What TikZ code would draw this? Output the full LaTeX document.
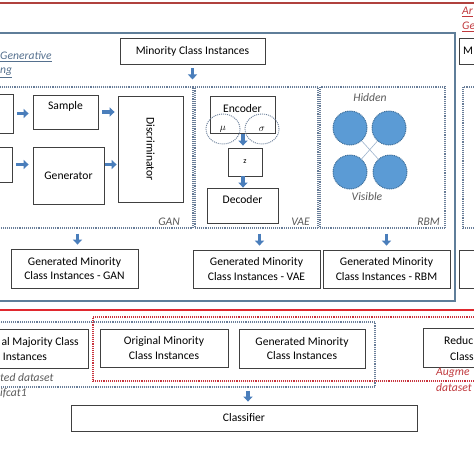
\documentclass[tikz,border=0pt]{standalone}
\usepackage{fontspec}
\setmainfont{Carlito}
\usetikzlibrary{arrows.meta,shapes.geometric}

\definecolor{boxgray}{HTML}{404040}
\definecolor{frameblue}{HTML}{5F7E99}
\definecolor{dotblue}{HTML}{687D98}
\definecolor{arrblue}{HTML}{4A7EBB}
\definecolor{unitblue}{HTML}{5B9BD5}
\definecolor{unitedge}{HTML}{41719C}
\definecolor{wireblue}{HTML}{9DB3CC}
\definecolor{topred}{HTML}{B0413E}
\definecolor{linered}{HTML}{E0282E}
\definecolor{dotred}{HTML}{C8323C}
\definecolor{txtred}{HTML}{C0393D}
\definecolor{txtgray}{HTML}{595959}
\definecolor{txtblue}{HTML}{55708E}

\tikzset{
  box/.style={draw=boxgray, line width=0.8pt, fill=white, inner sep=0pt, align=center,
    font=\fontsize{11.6}{14.5}\selectfont},
  txt/.style={inner sep=0pt, align=center, font=\fontsize{11.6}{14.5}\selectfont},
  tag/.style={inner sep=0pt, text=txtgray, font=\fontsize{11.6}{14.5}\selectfont\itshape},
  redtag/.style={inner sep=0pt, text=txtred, font=\fontsize{11.6}{14.5}\selectfont\itshape},
  bluetag/.style={inner sep=0pt, text=txtblue, font=\fontsize{11.6}{14.5}\selectfont\itshape},
  dotbox/.style={draw=dotblue, line width=1.1pt, dash pattern=on 1pt off 0.9pt, inner sep=0pt},
  reddots/.style={draw=dotred, line width=1.1pt, dash pattern=on 1pt off 0.9pt, inner sep=0pt},
  ell/.style={ellipse, draw=dotblue, line width=0.9pt, dash pattern=on 1pt off 1pt,
    minimum width=34pt, minimum height=30pt, inner sep=0pt, font=\fontsize{10}{12}\selectfont},
  unit/.style={circle, fill=unitblue, draw=unitedge, line width=1pt,
    dash pattern=on 1pt off 0.8pt, minimum size=34pt, inner sep=0pt},
  barrow/.style={arrblue, line width=3.4pt, -{Triangle[width=9pt,length=5pt]}},
}

\begin{document}
\begin{tikzpicture}[x=1pt,y=-1pt]
\useasboundingbox (0,0) rectangle (474,474);
\clip (0,0) rectangle (474,474);

% frames
\draw[topred, line width=1.6pt] (-5,3) -- (480,3); % outer red
\draw[frameblue, line width=1.2pt] (-10,33) rectangle (455,301); % generative block
\draw[linered, line width=1.2pt] (-5,310) -- (480,310); % red rule
\node[bluetag, anchor=west] (gentag) at (0,57) {\underline{Generative}};
\node[bluetag, anchor=west] (lrntag) at (0,73) {\underline{ng}};
\node[redtag, anchor=west] (artag) at (462,12) {\underline{Ar}};
\node[redtag, anchor=west] (getag) at (462,27) {\underline{Ge}};

% input
\node[box, minimum width=145pt, minimum height=26pt] (minor) at (192.5,51) {Minority Class Instances};

% model boxes
\node[dotbox, minimum width=203pt, minimum height=141pt] (gan) at (91.5,157.5) {};
\node[dotbox, minimum width=123pt, minimum height=141pt] (vae) at (256.5,157.5) {};
\node[dotbox, minimum width=125pt, minimum height=141pt] (rbm) at (382.5,157.5) {};
\node[tag, anchor=east] (gantag) at (180,222) {GAN};
\node[tag, anchor=east] (vaetag) at (310,222) {VAE};
\node[tag, anchor=east] (rbmtag) at (440,222) {RBM};
\draw[barrow, shorten <=4pt, shorten >=7pt] (minor.south) -- (minor.south |- gan.north);

% GAN
\node[box, minimum width=43pt, minimum height=39pt] (realin) at (-8.5,113.5) {};
\node[box, minimum width=42pt, minimum height=35pt] (noisein) at (-9,164.5) {};
\node[box, minimum width=65pt, minimum height=34pt] (sample) at (65.5,112) {};
\node[txt] (sampletxt) at (65.5,106) {Sample};
\node[box, minimum width=71pt, minimum height=57pt] (generator) at (68.5,175.5) {Generator};
\node[box, minimum width=65pt, minimum height=106pt] (disc) at (150.5,149) {};
\node[txt, rotate=-90] (disctxt) at (disc.center) {Discriminator};
\draw[barrow, shorten <=4pt, shorten >=4pt] (realin.east) -- (realin.east -| sample.west);
\draw[barrow, shorten <=4pt, shorten >=4pt] (noisein.east) -- (noisein.east -| generator.west);
\draw[barrow, shorten <=4pt, shorten >=3pt] (sample.east) -- (sample.east -| disc.west);
\draw[barrow, shorten <=1pt, shorten >=1pt] (noisein.east -| generator.east) -- (noisein.east -| disc.west);

% VAE
\node[box, minimum width=65pt, minimum height=37pt] (encoder) at (242.5,114.5) {};
\node[txt] (enctxt) at (242.5,109) {Encoder};
\node[ell] (mu) at (223,129) {$\mu$};
\node[ell] (sigma) at (262,129) {$\sigma$};
\node[box, minimum width=34pt, minimum height=28pt, font=\fontsize{8}{10}\selectfont] (zlat) at (245,162) {z};
\node[box, minimum width=71pt, minimum height=35pt] (decoder) at (242.5,205.5) {};
\node[txt] (dectxt) at (242.5,200) {Decoder};
\draw[barrow, shorten <=1pt, shorten >=2pt] ([xshift=-2pt]encoder.south -| zlat.north) -- ([xshift=-2pt]zlat.north);
\draw[barrow] ([xshift=-2pt]zlat.south) -- ([xshift=-2pt]zlat.south |- decoder.north);

% RBM
\node[tag] (hidtag) at (370,98) {Hidden};
\node[unit] (h1) at (350,128) {};
\node[unit] (h2) at (389,128) {};
\node[unit] (v1) at (350,172) {};
\node[unit] (v2) at (390,172) {};
\draw[wireblue, line width=0.6pt] (h1) -- (v2);
\draw[wireblue, line width=0.6pt] (h2) -- (v1);
\node[tag] (vistag) at (367,197) {Visible};

% generated sets
\node[box, minimum width=127pt, minimum height=39pt] (gengan) at (74.5,268.5) {Generated Minority\\Class Instances - GAN};
\node[box, minimum width=127pt, minimum height=38pt] (genvae) at (256.5,269) {Generated Minority\\Class Instances - VAE};
\node[box, minimum width=127pt, minimum height=38pt] (genrbm) at (386.5,269) {Generated Minority\\Class Instances - RBM};
\draw[barrow, shorten <=5pt, shorten >=4pt] ([xshift=3pt]gengan.north |- gan.south) -- ([xshift=3pt]gengan.north);
\draw[barrow, shorten <=5pt, shorten >=4pt] ([xshift=3pt]genvae.north |- vae.south) -- ([xshift=3pt]genvae.north);
\draw[barrow, shorten <=5pt, shorten >=4pt] (genrbm.north |- rbm.south) -- (genrbm.north);

% next block (cut off)
\node[box, minimum width=50pt, minimum height=26pt] (minor2) at (484,51) {};
\node[txt, anchor=west] (minor2txt) at (463,51) {M};
\node[dotbox, minimum width=50pt, minimum height=141pt] (gan2) at (488,157.5) {};
\node[box, minimum width=50pt, minimum height=38pt] (gen2) at (484,269) {};

% augmented dataset
\node[dotbox, minimum width=385pt, minimum height=65pt] (aug) at (182.5,354.5) {};
\node[reddots, minimum width=397pt, minimum height=64pt] (augred) at (291.5,349) {};
\node[box, minimum width=130pt, minimum height=39pt] (major) at (23,348.5) {};
\node[txt, anchor=east] (majtxt1) at (79,342) {al Majority Class};
\node[txt] (majtxt2) at (25,357) {Instances};
\node[box, minimum width=128pt, minimum height=38pt] (origmin) at (164,348) {Original Minority\\Class Instances};
\node[box, minimum width=126pt, minimum height=39pt] (genmin) at (302,348.5) {Generated Minority\\Class Instances};
\node[box, minimum width=77pt, minimum height=39pt] (reduced) at (461.5,347.5) {};
\node[txt, anchor=west] (redtxt1) at (444,341) {Reduc};
\node[txt, anchor=west] (redtxt2) at (450,357) {Class};
\node[tag, anchor=west] (augtag) at (0,378) {ted dataset};
\node[tag, anchor=west] (augtag2) at (0,393) {ifcat1};
\node[redtag, anchor=west] (augred1) at (436,373) {Augme};
\node[redtag, anchor=west] (augred2) at (436,388) {dataset};

% classifier
\node[box, minimum width=346pt, minimum height=26pt] (classif) at (244,418) {Classifier};
\draw[barrow, shorten <=3pt, shorten >=3pt] ([xshift=4pt]classif.north |- aug.south) -- ([xshift=4pt]classif.north);

\end{tikzpicture}
\end{document}
